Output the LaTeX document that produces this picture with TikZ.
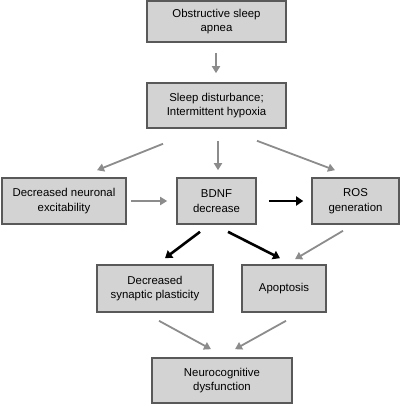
\documentclass[tikz,border=0pt]{standalone}
\usepackage{fontspec}
\setmainfont{Liberation Sans}
\usetikzlibrary{arrows.meta,calc}
\definecolor{boxfill}{HTML}{D3D3D3}
\definecolor{boxline}{HTML}{595959}
\definecolor{arrgray}{HTML}{8C8C8C}
\tikzset{
  box/.style={draw=boxline, line width=1.6pt, fill=boxfill, inner sep=0pt, align=center,
    font=\fontsize{11.4}{14.5}\selectfont},
  garrow/.style={draw=arrgray, line width=1.8pt, -{Triangle[length=7pt,width=8pt]}},
  barrow/.style={draw=black, line width=2.6pt, -{Triangle[length=7pt,width=9pt]}}
}
\begin{document}
\begin{tikzpicture}[x=1pt,y=-1pt]
\useasboundingbox (0,0) rectangle (400,404);
\node[box, minimum width=139pt, minimum height=41pt] (osa) at (216.5,21.5) {Obstructive sleep\\apnea};
\node[box, minimum width=139pt, minimum height=45pt] (sd) at (216.5,105.5) {Sleep disturbance;\\Intermittent hypoxia};
\node[box, minimum width=124pt, minimum height=46pt] (dne) at (64,201) {Decreased neuronal\\excitability};
\node[box, minimum width=79pt, minimum height=46pt] (bdnf) at (216.5,201) {BDNF\\decrease};
\node[box, minimum width=87pt, minimum height=46pt] (ros) at (355.5,201) {ROS\\generation};
\node[box, minimum width=116pt, minimum height=47pt] (dsp) at (155,288.5) {Decreased\\synaptic plasticity};
\node[box, minimum width=84pt, minimum height=47pt] (apo) at (284,288.5) {Apoptosis};
\node[box, minimum width=140pt, minimum height=45pt] (ncd) at (222,380.5) {Neurocognitive\\dysfunction};

\draw[garrow] ($(osa.south)+(-0.5,10)$) -- ($(sd.north)+(-0.5,-9)$);
\draw[garrow] ($(sd.south)+(-53.5,15)$) -- ($(dne.north)+(33,-7)$);
\draw[garrow] ($(sd.south)+(1.5,12)$) -- ($(bdnf.north)+(1.5,-7)$);
\draw[garrow] ($(sd.south)+(40.5,12)$) -- ($(ros.north)+(-20.5,-7)$);
\draw[garrow] ($(dne.east)+(4,0)$) -- ($(bdnf.west)+(-9,0)$);
\draw[barrow] ($(bdnf.east)+(12,0)$) -- ($(ros.west)+(-8,0)$);
\draw[barrow] ($(bdnf.south)+(-16.5,7)$) -- ($(dsp.north)+(10,-6)$);
\draw[barrow] ($(bdnf.south)+(11.5,7)$) -- ($(apo.north)+(-4,-6)$);
\draw[garrow] ($(ros.south)+(-12.5,6)$) -- ($(apo.north)+(11,-5)$);
\draw[garrow] ($(dsp.south)+(4,8)$) -- ($(ncd.north)+(-11,-8)$);
\draw[garrow] ($(apo.south)+(2,8)$) -- ($(ncd.north)+(13,-8)$);
\end{tikzpicture}
\end{document}
